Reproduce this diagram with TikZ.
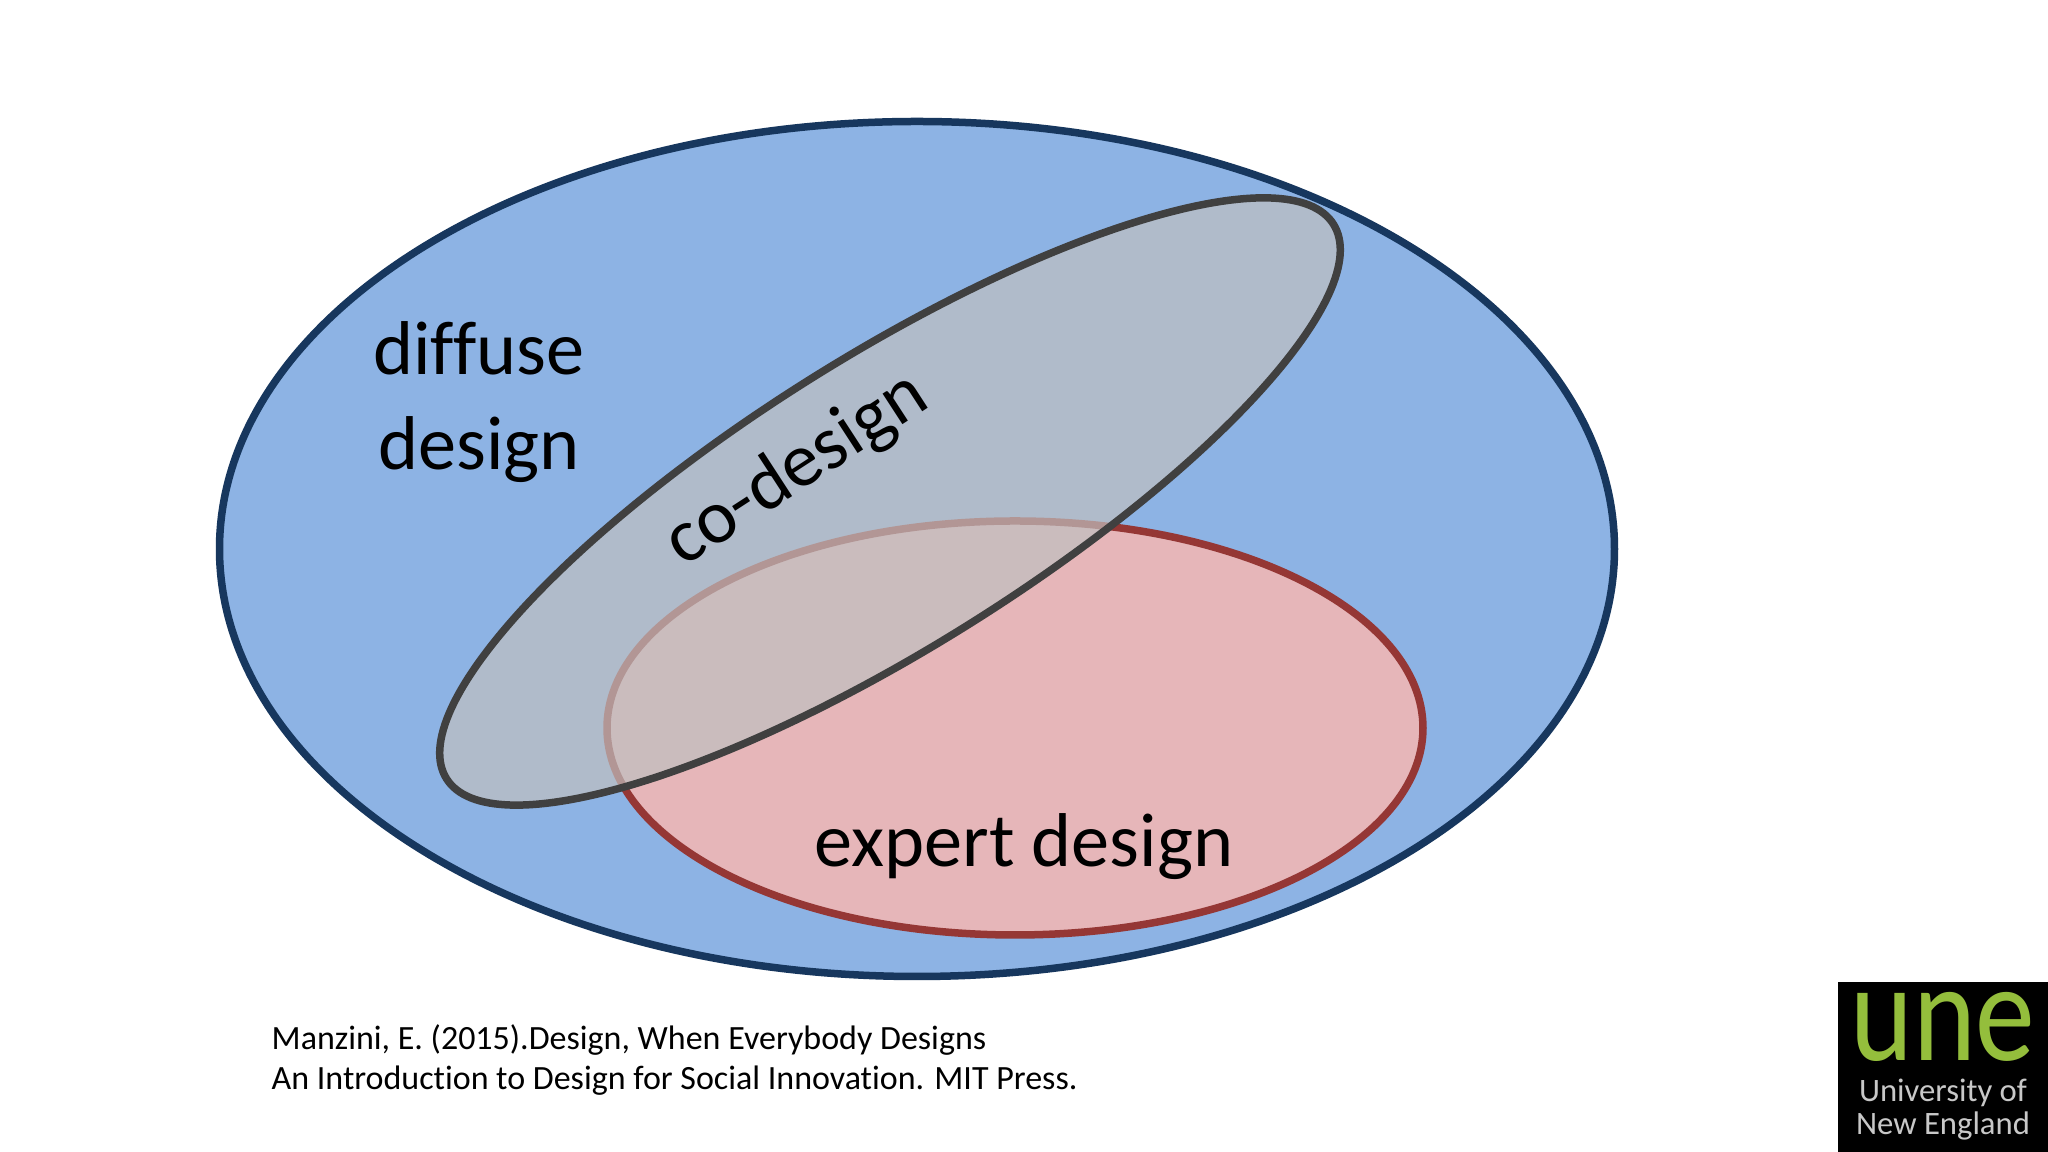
\documentclass[tikz,border=0pt]{standalone}
\usepackage{fontspec}
\setmainfont[Ligatures=NoCommon]{Carlito}
\usepackage{xcolor}
\usepackage{tikz}
\usetikzlibrary{shapes.geometric}
\definecolor{diffuseblue}{HTML}{8DB3E4}
\definecolor{diffuseline}{HTML}{17375E}
\definecolor{expertpink}{HTML}{E6B6B9}
\definecolor{expertline}{HTML}{953735}
\definecolor{logogreen}{HTML}{94BE3C}
\definecolor{logogray}{HTML}{C8C8C8}
\tikzstyle{setshape} = [ellipse, draw, line width=0.075cm, inner sep=0pt, outer sep=0pt]
\tikzstyle{setlabel} = [font=\fontsize{21.7pt}{27pt}\selectfont, text=black, align=center, inner sep=0pt]

\begin{document}
\begin{tikzpicture}
	\useasboundingbox (0,0) rectangle (20.48,11.52);
	\fill[white] (0,0) rectangle (20.48,11.52);
	% the three sets
	\node [setshape, draw=diffuseline, fill=diffuseblue, minimum width=13.95cm, minimum height=8.55cm] (diffuse) at (9.17,6.03) {};
	\node [setshape, draw=expertline, fill=expertpink, minimum width=8.16cm, minimum height=4.14cm] (expert) at (10.15,4.24) {};
	\node [setshape, draw=black!75, fill=black!25, fill opacity=0.7, minimum width=10.46cm, minimum height=2.92cm, rotate=32] (codesign) at (8.90,6.505) {};
	% labels
	\node [setlabel] (diffuselabel) at (4.79,7.50) {diffuse\\design};
	\node [setlabel, rotate=33] (codesignlabel) at (7.97,6.82) {co-design};
	\node [setlabel] (expertlabel) at (10.24,3.05) {expert design};
	% reference
	\node [anchor=west, align=left, inner sep=0pt, font=\fontsize{9.67pt}{11.5pt}\selectfont] (source) at (2.71,0.92) {Manzini, E. (2015).Design, When Everybody Designs\\An Introduction to Design for Social Innovation. MIT Press.};
	% logo
	\node [fill=black, anchor=south west, inner sep=0pt, outer sep=0pt, minimum width=2.10cm, minimum height=1.70cm] (logo) at (18.38,0) {};
	\node [text=logogreen, font=\fontsize{40pt}{40pt}\selectfont, xscale=0.85, inner sep=0pt] (une) at (19.43,1.25) {une};
	\node [text=logogray, align=center, inner sep=0pt, font=\fontsize{9.3pt}{9.4pt}\selectfont] (unename) at (19.43,0.42) {University of\\New England};
\end{tikzpicture}
\end{document}
